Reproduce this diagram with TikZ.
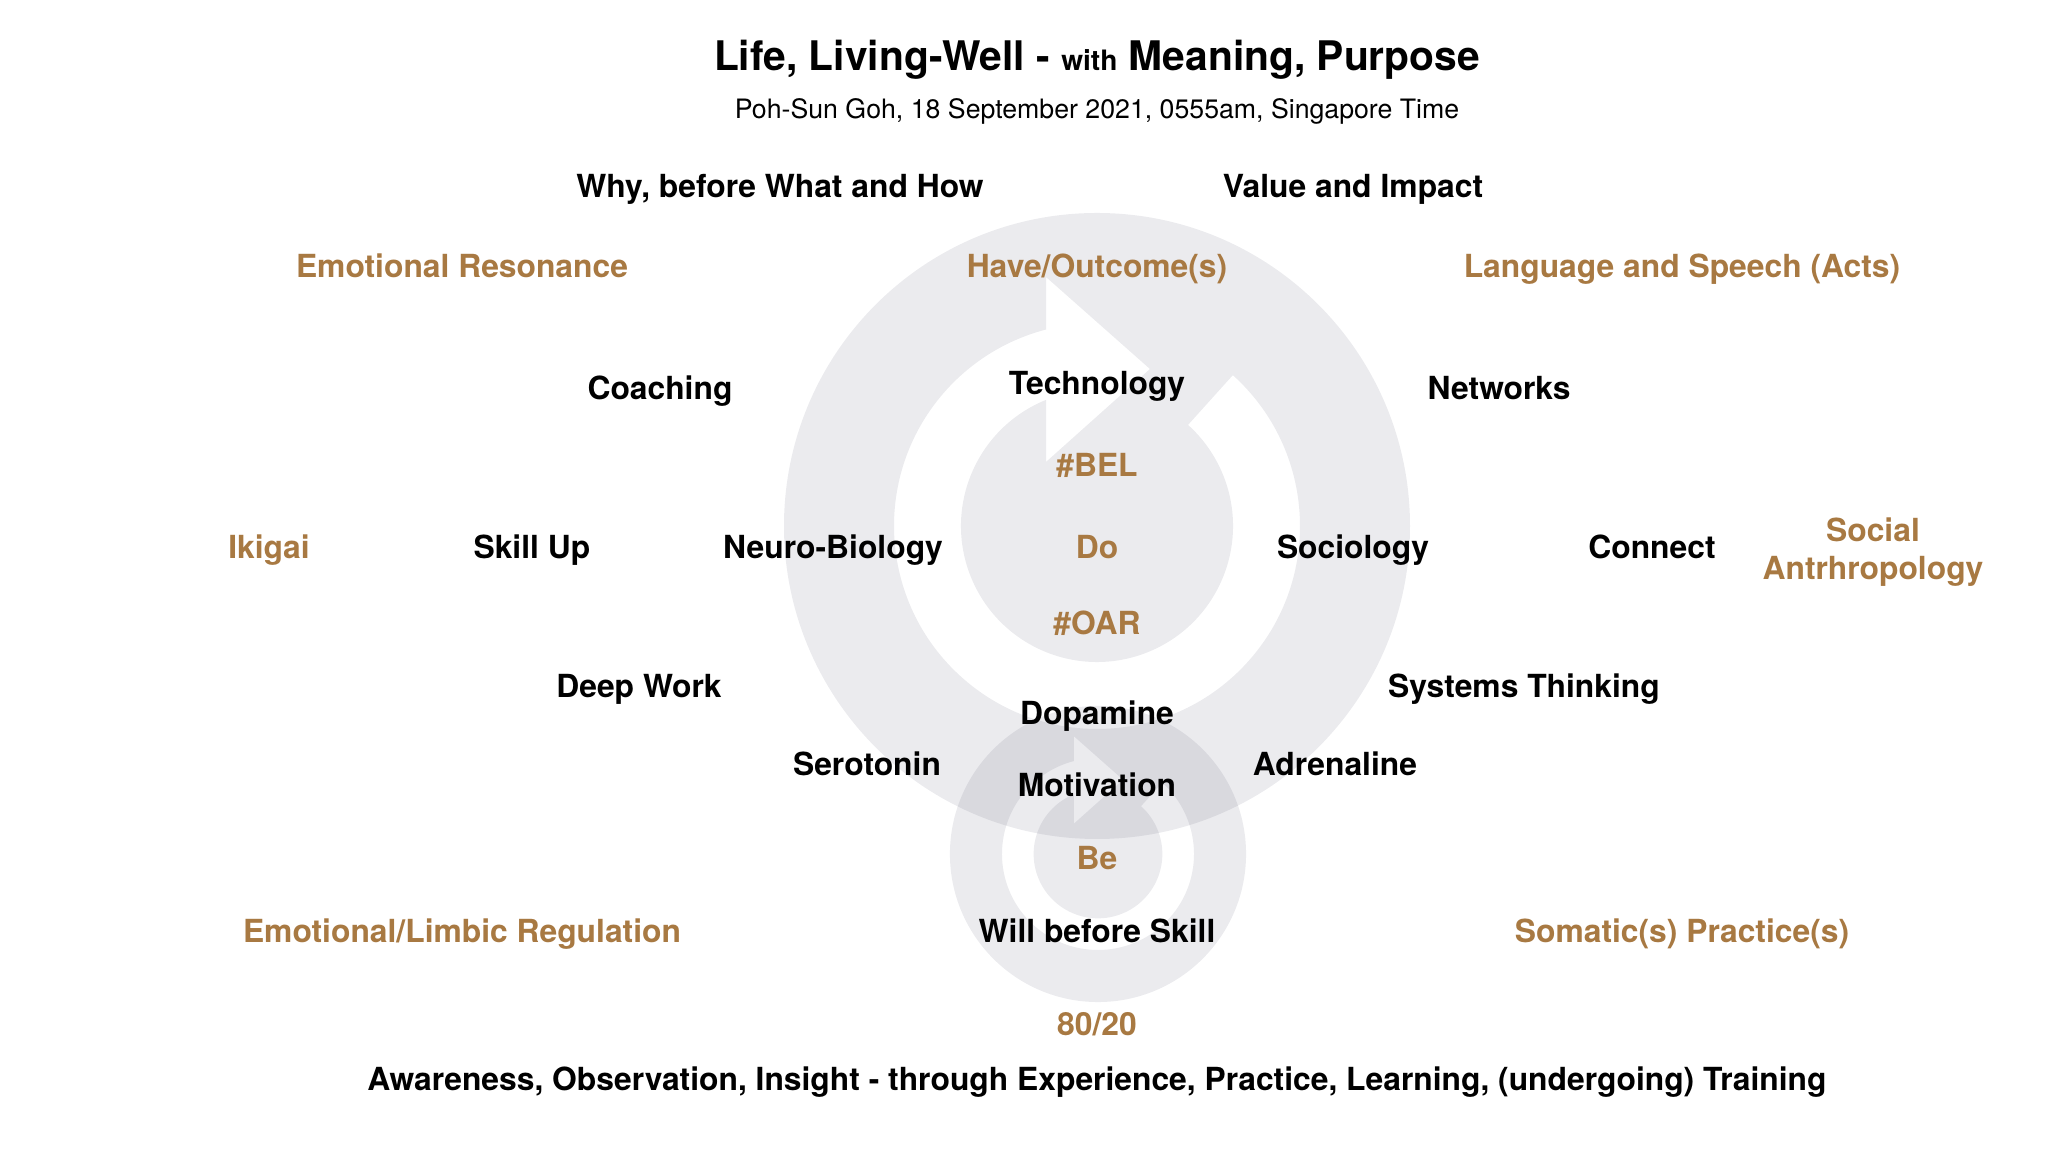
\documentclass[tikz,border=0pt]{standalone}
\usepackage{fontspec}
\setmainfont{TeX Gyre Heros}
\usepackage{tikz}

\definecolor{ochre}{RGB}{168,121,66}
\definecolor{ringgrey}{RGB}{60,60,90}

\tikzset{
  lbl/.style={font=\bfseries\fontsize{9.05}{11}\selectfont, text height=1.5ex, text depth=.25ex, inner sep=0pt},
  blk/.style={lbl, text=black},
  gold/.style={lbl, text=ochre},
  refresh/.pic={
    \fill[ringgrey, fill opacity=.1, even odd rule] (0,0) circle (3.13)
      (48:2.03) arc[start angle=48, end angle=-255.45, radius=2.03]
      -- (-0.51,2.49) -- (0.53,1.57) -- (-0.51,0.64)
      -- (-248:1.36) arc[start angle=-248, end angle=48, radius=1.36] -- cycle;
  }
}

\begin{document}
\begin{tikzpicture}
	\fill[white] (0,0) rectangle (20.48,11.52);
	\useasboundingbox (0,0) rectangle (20.48,11.52);

	% the two cycle icons
	\pic at (10.97,6.26) {refresh};
	\pic[scale=.473] at (10.98,2.98) {refresh};

	\node (title) at (10.97,10.92) {\bfseries\fontsize{11.6}{14}\selectfont Life, Living-Well - {\fontsize{8}{10}\selectfont with} Meaning, Purpose};
	\node (sub) at (10.97,10.41) {\fontsize{7.6}{9}\selectfont Poh-Sun Goh, 18 September 2021, 0555am, Singapore Time};

	\node (why) at (7.80,9.66) [blk]{Why, before What and How};
	\node (value) at (13.53,9.66) [blk]{Value and Impact};
	\node (emores) at (4.62,8.86) [gold]{Emotional Resonance};
	\node (have) at (10.97,8.86) [gold]{Have/Outcome(s)};
	\node (lang) at (16.82,8.86) [gold]{Language and Speech (Acts)};
	\node (coach) at (6.60,7.64) [blk]{Coaching};
	\node (tech) at (10.97,7.69) [blk]{Technology};
	\node (net) at (14.99,7.64) [blk]{Networks};
	\node (bel) at (10.97,6.87) [gold]{\#BEL};

	\node (ikigai) at (2.69,6.05) [gold]{Ikigai};
	\node (skill) at (5.32,6.05) [blk]{Skill Up};
	\node (neuro) at (8.33,6.05) [blk]{Neuro-Biology};
	\node (do) at (10.97,6.05) [gold]{Do};
	\node (socio) at (13.53,6.05) [blk]{Sociology};
	\node (connect) at (16.52,6.05) [blk]{Connect};
	\node (anthro) at (18.73,6.00) [gold, align=center, text height=, text depth=, font=\bfseries\fontsize{9.05}{11}\selectfont]{Social\\Antrhropology};

	\node (oar) at (10.97,5.29) [gold]{\#OAR};
	\node (deep) at (6.39,4.66) [blk]{Deep Work};
	\node (systems) at (15.24,4.66) [blk]{Systems Thinking};
	\node (dopa) at (10.97,4.39) [blk]{Dopamine};
	\node (sero) at (8.67,3.88) [blk]{Serotonin};
	\node (adren) at (13.35,3.88) [blk]{Adrenaline};
	\node (motiv) at (10.97,3.67) [blk]{Motivation};
	\node (be) at (10.97,2.94) [gold]{Be};

	\node (limbic) at (4.62,2.21) [gold]{Emotional/Limbic Regulation};
	\node (will) at (10.97,2.21) [blk]{Will before Skill};
	\node (somatic) at (16.82,2.21) [gold]{Somatic(s) Practice(s)};
	\node (eighty) at (10.97,1.28) [gold]{80/20};
	\node (aware) at (10.97,0.73) [blk]{Awareness, Observation, Insight - through Experience, Practice, Learning, (undergoing) Training};
\end{tikzpicture}
\end{document}
